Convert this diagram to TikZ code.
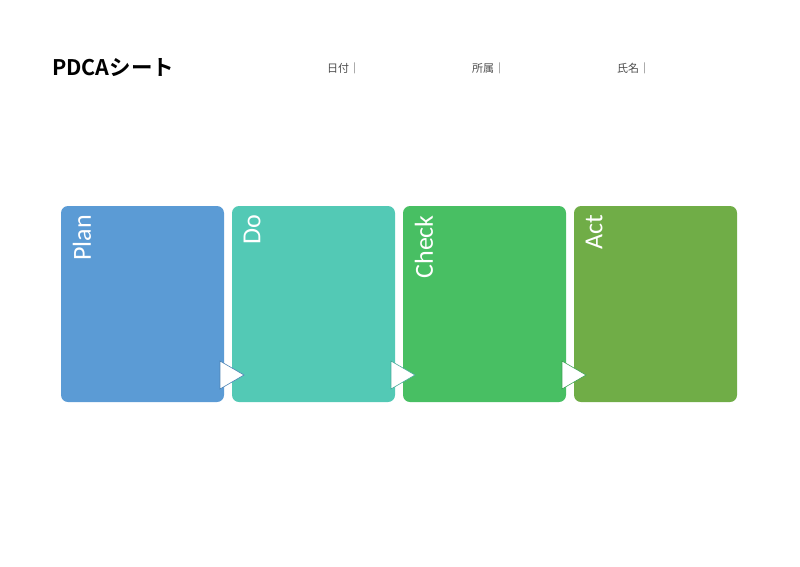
\documentclass[tikz,border=0pt]{standalone}
\usepackage{fontspec}
\setmainfont{Carlito}
\newfontfamily\jpfont{Noto Sans CJK JP}
\newfontfamily\jpbold{Noto Sans CJK JP Bold}
\definecolor{cplan}{HTML}{5B9BD5}
\definecolor{cdo}{HTML}{53C9B5}
\definecolor{ccheck}{HTML}{48BF63}
\definecolor{cact}{HTML}{70AD47}
\begin{document}
\begin{tikzpicture}[x=1pt,y=-1pt,
  phase/.style={rounded corners=7pt},
  lbl/.style={rotate=90,anchor=north east,inner sep=0pt,text=white,font=\fontsize{26}{26}\selectfont},
  hdr/.style={anchor=west,inner sep=0pt,font=\jpfont\fontsize{11}{11}\selectfont,text=black!70},
  tri/.style={fill=white,line width=0.6pt}]
\useasboundingbox (0,0) rectangle (800,566);
\node[anchor=west,inner sep=0pt,font=\jpbold\fontsize{21.5}{21.5}\selectfont] (title) at (52,68) {PDCAシート};
\node[hdr] (date) at (327,68) {日付｜};
\node[hdr] (dept) at (472,68) {所属｜};
\node[hdr] (name) at (617,68) {氏名｜};
\fill[cplan,phase] (61,206) rectangle (224,402);
\fill[cdo,phase] (232,206) rectangle (395,402);
\fill[ccheck,phase] (403,206) rectangle (566,402);
\fill[cact,phase] (574,206) rectangle (737,402);
\node[lbl] (plan) at (72.5,215) {Plan};
\node[lbl] (do) at (243.5,215) {Do};
\node[lbl] (check) at (414.5,215) {Check};
\node[lbl] (act) at (585.5,215) {Act};
\draw[tri,draw=cplan!85!black] (220,361) -- (244,375) -- (220,389) -- cycle;
\draw[tri,draw=cdo!85!black] (391,361) -- (415,375) -- (391,389) -- cycle;
\draw[tri,draw=ccheck!85!black] (562,361) -- (586,375) -- (562,389) -- cycle;
\end{tikzpicture}
\end{document}
